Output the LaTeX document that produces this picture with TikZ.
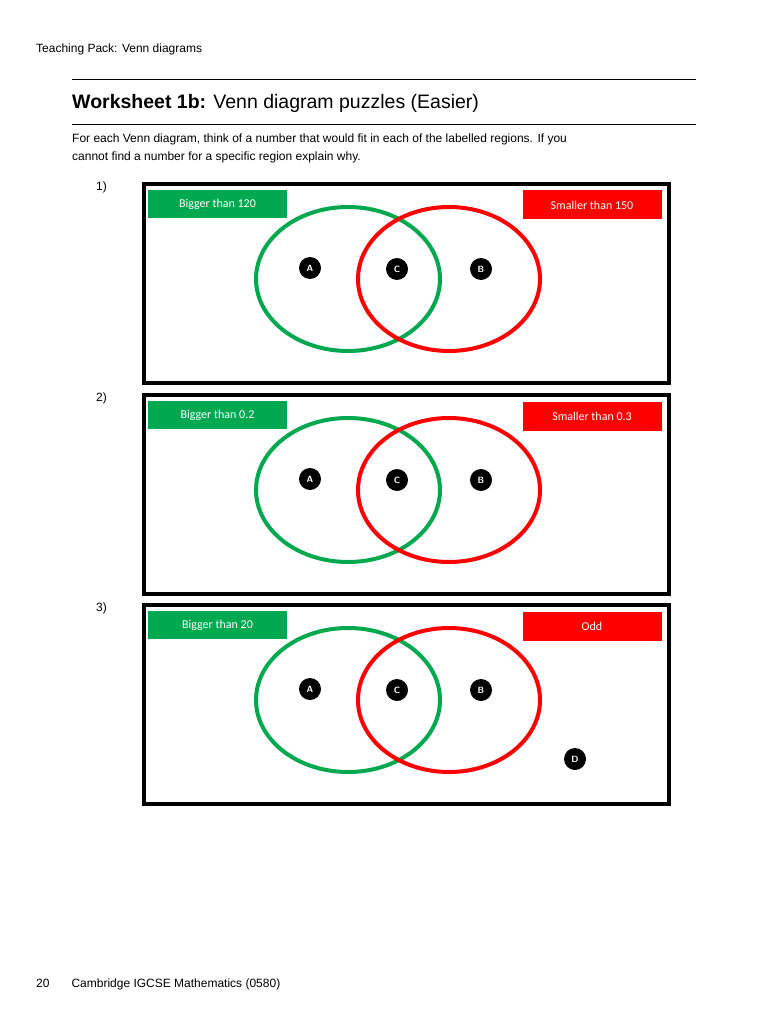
\documentclass[tikz,border=0pt]{standalone}
\usepackage{fontspec}
\setmainfont{Liberation Sans}
\newfontfamily\lab{Carlito}
\definecolor{vgreen}{RGB}{0,168,80}
\definecolor{vred}{RGB}{255,0,0}
\begin{document}
\begin{tikzpicture}[x=1pt,y=-1pt,
  frame/.style={draw=black,line width=3.2pt},
  gset/.style={draw=vgreen,line width=4pt},
  rset/.style={draw=vred,line width=4pt},
  glab/.style={fill=vgreen,text=white,minimum width=139pt,minimum height=28pt,inner sep=0pt,font=\lab\fontsize{12}{14}\selectfont},
  rlab/.style={fill=vred,text=white,minimum width=139pt,minimum height=29pt,inner sep=0pt,font=\lab\fontsize{12}{14}\selectfont},
  dot/.style={circle,fill=black,text=white,minimum size=22pt,inner sep=0pt,font=\sffamily\bfseries\fontsize{9}{10}\selectfont},
  body/.style={font=\fontsize{12}{14}\selectfont,anchor=west,inner sep=0pt}]
\useasboundingbox (0,0) rectangle (768,1024);
\fill[white] (0,0) rectangle (768,1024);
\node[body] (hdr) at (36,49) {Teaching Pack: Venn diagrams};
\draw[line width=0.8pt] (72,79) -- (696,79);
\node[body,font=\fontsize{19.5}{22}\selectfont] (title) at (72,103) {\textbf{Worksheet 1b:} Venn diagram puzzles (Easier)};
\draw[line width=0.8pt] (72,124) -- (696,124);
\node[body] (p1) at (72,139) {For each Venn diagram, think of a number that would fit in each of the labelled regions. If you};
\node[body] (p2) at (72,157) {cannot find a number for a specific region explain why.};
\node[body] (foot) at (36,984) {20\hspace{22pt}Cambridge IGCSE Mathematics (0580)};
\foreach \i/\dy/\gl/\rl in {1/0/{Bigger than 120}/{Smaller than 150},2/211/{Bigger than 0.2}/{Smaller than 0.3},3/421/{Bigger than 20}/{Odd}}{
  \begin{scope}[yshift=-\dy pt]
  \node[body] (num\i) at (96,187) {\i)};
  \draw[frame] (144,184) rectangle (669,383);
  \draw[gset] (348,279) ellipse [x radius=92pt,y radius=72pt];
  \draw[rset] (449,279) ellipse [x radius=91pt,y radius=72pt];
  \node[glab] (g\i) at (217.5,204) {\gl};
  \node[rlab] (r\i) at (592,205) {\rl};
  \node[dot] (a\i) at (310,268) {A};
  \node[dot] (c\i) at (397,269) {C};
  \node[dot] (b\i) at (481,269) {B};
  \end{scope}}
\node[dot] (d3) at (575,759) {D};
\end{tikzpicture}
\end{document}
